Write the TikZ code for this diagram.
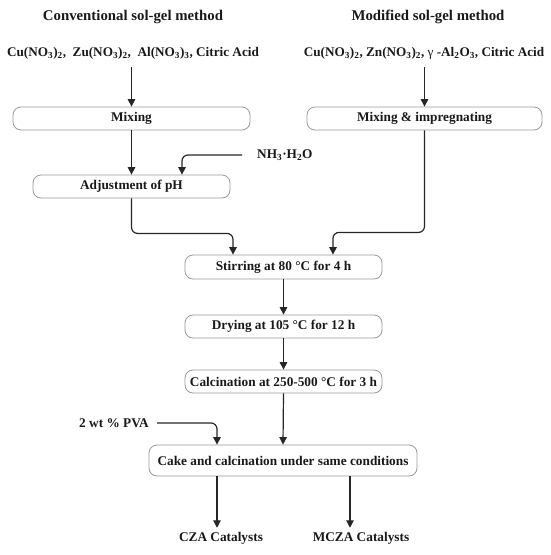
\documentclass[tikz,border=0pt]{standalone}
\usepackage{fontspec}
\setmainfont{Liberation Serif}
\usetikzlibrary{arrows.meta}
\newcommand{\sbs}[1]{\textsubscript{#1}}
\begin{document}
\begin{tikzpicture}[x=1pt,y=-1pt,
  box/.style={draw=black!40, rounded corners=8pt, line width=0.8pt, minimum height=23pt, inner sep=0pt, text=black!90, font=\bfseries\fontsize{13.3}{15}\selectfont},
  lbl/.style={inner sep=0pt, text=black!90, font=\bfseries\fontsize{13.3}{15}\selectfont},
  ttl/.style={inner sep=0pt, text=black!90, font=\bfseries\fontsize{14.8}{17}\selectfont},
  rct/.style={inner sep=0pt, text=black!90, font=\bfseries\fontsize{13.2}{15}\selectfont},
  arr/.style={-{Triangle[length=7.5pt,width=7.5pt]}, line width=1.2pt, draw=black!85, rounded corners=6pt}]
\useasboundingbox (0,0) rectangle (550,555);
% titles
\node[ttl] (t1) at (133,17) {Conventional sol-gel method};
\node[ttl] (t2) at (428,17) {Modified sol-gel method};
% reactants
\node[rct] (r1) at (133,53) {Cu(NO\sbs{3})\sbs{2},\ \ Zu(NO\sbs{3})\sbs{2},\ \ Al(NO\sbs{3})\sbs{3}, Citric Acid};
\node[rct] (r2) at (424,53) {Cu(NO\sbs{3})\sbs{2},\ Zn(NO\sbs{3})\sbs{2}, {\mdseries γ} -Al\sbs{2}O\sbs{3}, Citric Acid};
% boxes
\node[box, minimum width=237pt] (mix) at (131.5,118.5) {Mixing};
\node[box, minimum width=235pt] (mixi) at (424.5,118.5) {Mixing \& impregnating};
\node[box, minimum width=197pt] (adj) at (131.5,186.5) {Adjustment of pH};
\node[lbl, anchor=west] (nh3) at (257,155) {NH\sbs{3}·H\sbs{2}O};
\node[box, minimum width=197pt, minimum height=24pt] (stir) at (283.5,267) {Stirring at 80 °C for 4 h};
\node[box, minimum width=197pt] (dry) at (283.5,326.5) {Drying at 105 °C for 12 h};
\node[box, minimum width=197pt] (calc) at (283.5,381.5) {Calcination at 250-500 °C for 3 h};
\node[box, minimum width=268pt, minimum height=31pt] (cake) at (283,460.5) {Cake and calcination under same conditions};
\node[lbl, anchor=east] (pva) at (149,423) {2 wt \% PVA};
\node[lbl] (cza) at (221,538) {CZA Catalysts};
\node[lbl] (mcza) at (361,538) {MCZA Catalysts};
% connectors
\draw[arr] ([yshift=-8pt]r1.south -| mix.north) -- (mix.north);
\draw[arr] ([yshift=-8pt]r2.south -| mixi.north) -- (mixi.north);
\draw[arr] (mix.south) -- (adj.north);
\draw[arr] ([xshift=-15pt]nh3.west) -| ([xshift=50.5pt]adj.north);
\draw[arr] (adj.south) -- ++(0,35) -| ([xshift=-50.5pt]stir.north);
\draw[arr] (mixi.south) -- ++(0,102) -| ([xshift=49.5pt]stir.north);
\draw[arr] (stir.south) -- (dry.north);
\draw[arr] (dry.south) -- (calc.north);
\draw[arr] (calc.south) -- (cake.north);
\draw[arr] ([xshift=8pt]pva.east) -| ([xshift=-66pt]cake.north);
\draw[arr, shorten >=4pt] ([xshift=-66pt]cake.south) -- ([xshift=-66pt]cake.south |- cza.north);
\draw[arr, shorten >=4pt] ([xshift=67pt]cake.south) -- ([xshift=67pt]cake.south |- mcza.north);
\end{tikzpicture}
\end{document}
